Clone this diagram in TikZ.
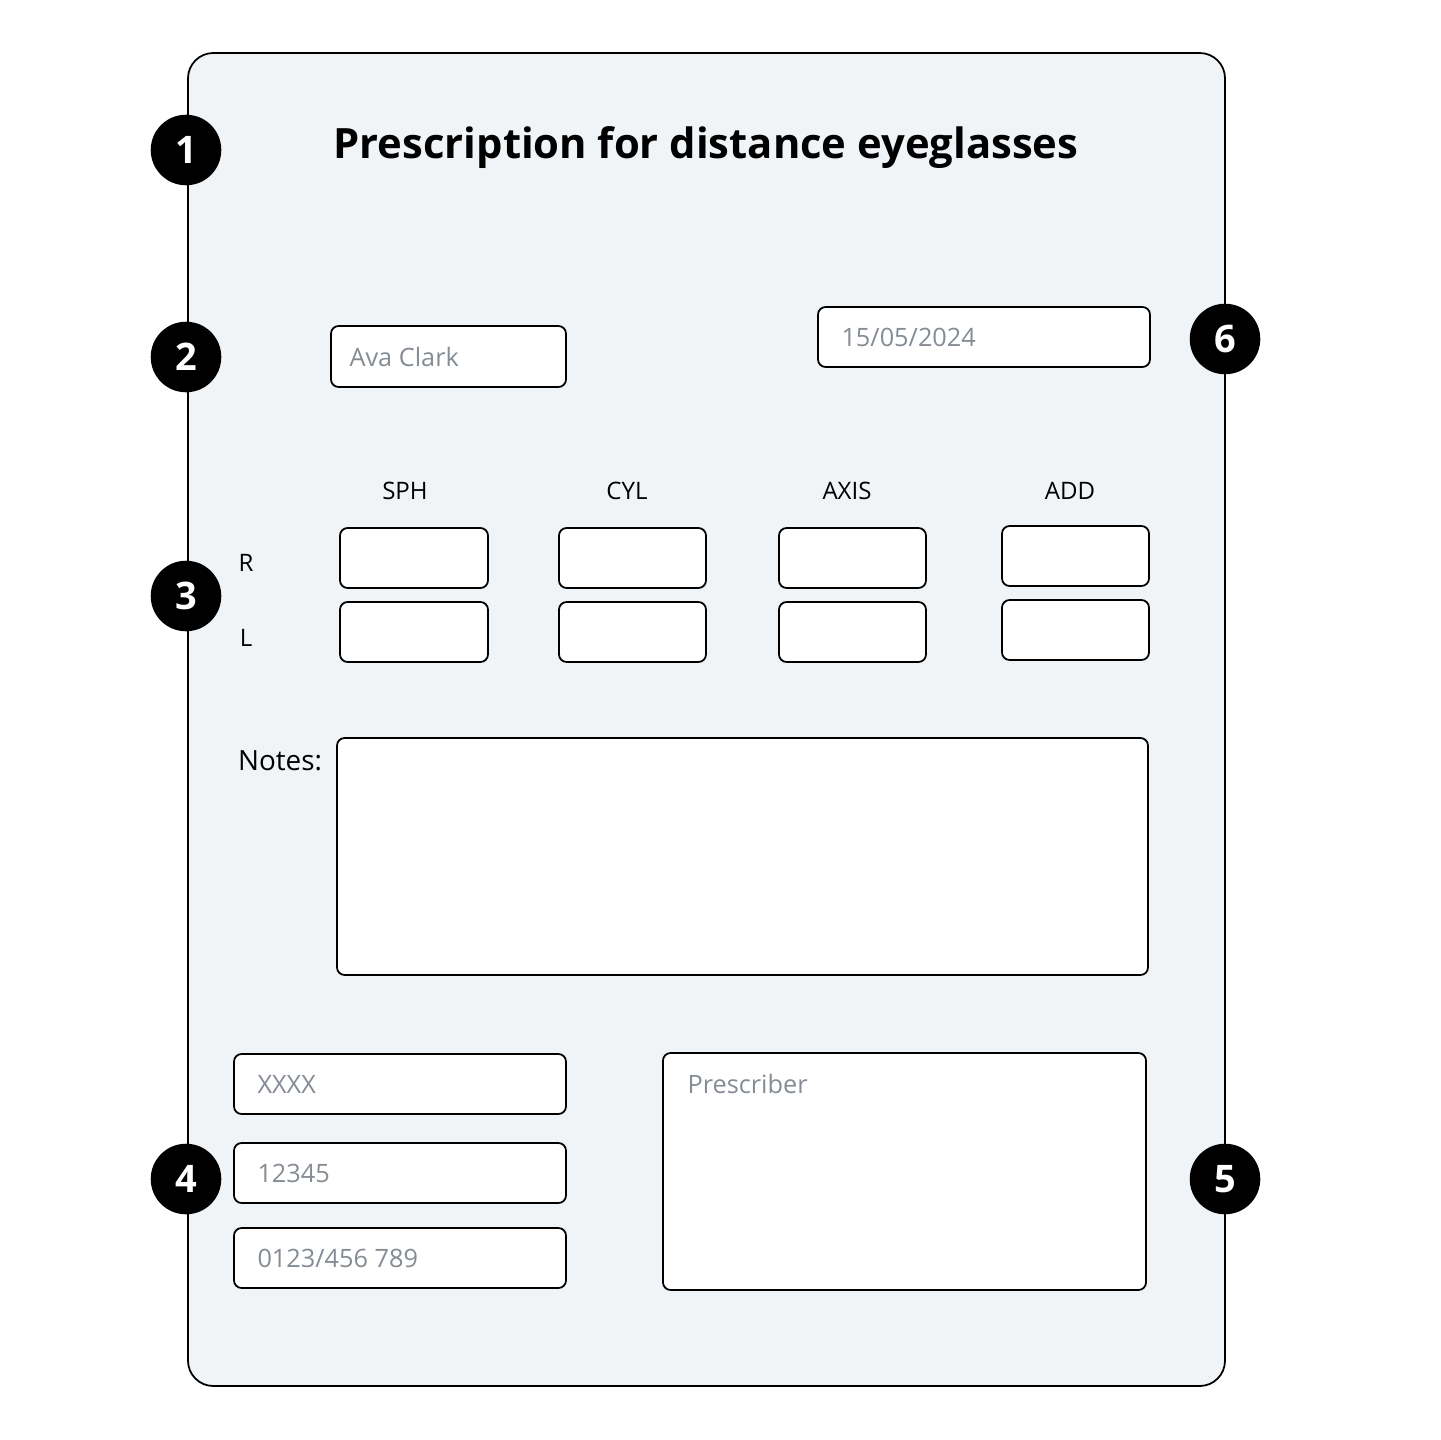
\documentclass[tikz,border=0pt]{standalone}
\usepackage{fontspec}
\setmainfont{Open Sans}
\definecolor{panel}{HTML}{F1F4F7}
\definecolor{ph}{HTML}{858C94}
\begin{document}
\begin{tikzpicture}[x=0.0138889cm,y=-0.0138889cm,
  field/.style={draw=black,fill=white,line width=0.7pt,rounded corners=3pt},
  badge/.style={circle,fill=black,text=white,minimum size=0.98cm,inner sep=0pt,font=\fontsize{15}{15}\selectfont\bfseries},
  lbl/.style={font=\fontsize{9.5}{11}\selectfont},
  phs/.style={font=\fontsize{10}{12}\selectfont,text=ph,anchor=west,inner sep=0pt}]
\useasboundingbox (0,0) rectangle (1440,1440);
\draw[fill=panel,line width=0.7pt,rounded corners=10pt] (188,53) rectangle (1225,1386);
\node[font=\fontsize{16.5}{18}\selectfont\bfseries] (title) at (706,148) {Prescription for distance eyeglasses};
% name and date
\draw[field] (331,326) rectangle (566,387);
\node[phs] (name) at (349,357) {Ava Clark};
\draw[field] (818,307) rectangle (1150,367);
\node[phs] (date) at (841,337) {15/05/2024};
% headers
\node[lbl] (sph) at (405,491) {SPH};
\node[lbl] (cyl) at (627,491) {CYL};
\node[lbl] (axis) at (847,491) {AXIS};
\node[lbl] (add) at (1070,491) {ADD};
\node[lbl] (r) at (246,563) {R};
\node[lbl] (l) at (246,638) {L};
\foreach \x/\w/\d in {340/148/0,559/147/0,779/147/0,1002/147/-2}{
  \draw[field] (\x,528+\d) rectangle (\x+\w,588+\d);
  \draw[field] (\x,602+\d) rectangle (\x+\w,662+\d);
}
% notes
\node[font=\fontsize{11}{13}\selectfont] (notes) at (280,761) {Notes:};
\draw[field] (337,738) rectangle (1148,975);
% bottom
\draw[field] (234,1054) rectangle (566,1114);
\node[phs] (x4) at (257,1084) {XXXX};
\draw[field] (234,1143) rectangle (566,1203);
\node[phs] (zip) at (257,1173) {12345};
\draw[field] (234,1228) rectangle (566,1288);
\node[phs] (tel) at (257,1258) {0123/456 789};
\draw[field] (663,1053) rectangle (1146,1290);
\node[phs] (pres) at (687,1084) {Prescriber};
% badges
\node[badge] (b1) at (186,150) {1};
\node[badge] (b2) at (186,357) {2};
\node[badge] (b3) at (186,596) {3};
\node[badge] (b4) at (186,1179) {4};
\node[badge] (b5) at (1225,1179) {5};
\node[badge] (b6) at (1225,339) {6};
\end{tikzpicture}
\end{document}
